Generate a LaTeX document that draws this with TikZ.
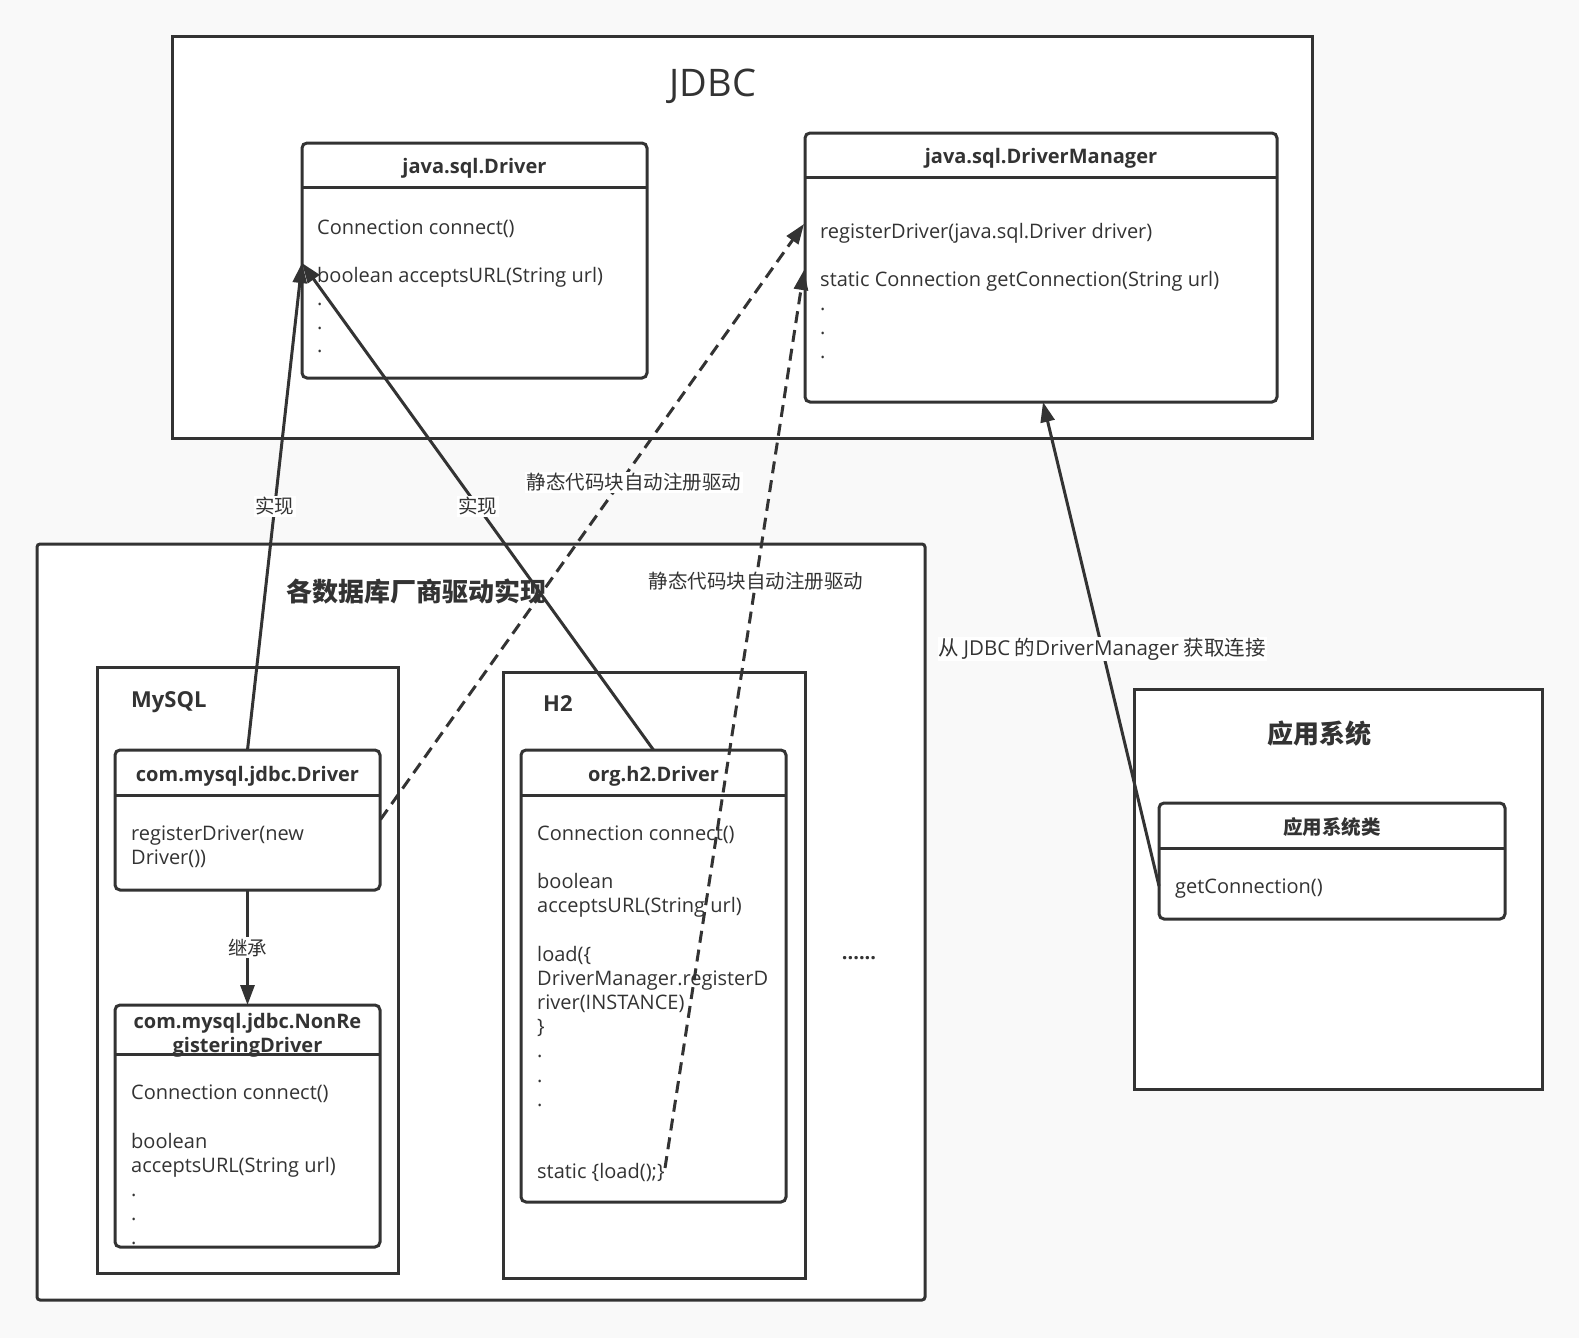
\documentclass[tikz,border=0pt]{standalone}
\usepackage{fontspec}
\setmainfont{Open Sans}
\newfontfamily\cjk{Noto Sans CJK SC}
\usetikzlibrary{arrows.meta,calc}
\definecolor{ink}{HTML}{333333}
\definecolor{bgc}{HTML}{F9F9F9}
\tikzset{
  outerbox/.style={draw=ink, line width=3pt, fill=white, inner sep=0pt, outer sep=0pt, anchor=north west},
  classbox/.style={draw=ink, line width=3pt, fill=white, rounded corners=5pt, inner sep=0pt, outer sep=0pt, anchor=north west},
  hdrline/.style={draw=ink, line width=3pt},
  conn/.style={draw=ink, line width=3pt, -{Triangle[length=20pt,width=14pt]}},
  dashconn/.style={conn, dash pattern=on 12pt off 7pt},
  body/.style={anchor=base west, inner sep=0pt, text=ink, font=\fontsize{20}{24}\selectfont},
  hdr/.style={inner sep=0pt, text=ink, font=\fontsize{20}{24}\selectfont\bfseries},
  cjkhdr/.style={inner sep=0pt, text=ink, font=\cjk\fontsize{19.5}{24}\selectfont\bfseries},
  bigtitle/.style={inner sep=0pt, text=ink, font=\cjk\fontsize{26}{30}\selectfont\bfseries},
  lbl/.style={fill=white, inner sep=1.5pt, text=ink, font=\cjk\fontsize{19.5}{22}\selectfont},
}
\begin{document}
\begin{tikzpicture}[x=1pt,y=-1pt]
\fill[bgc] (0,0) rectangle (1579,1338);
\useasboundingbox (0,0) rectangle (1579,1338);

% ---------- outer containers ----------
\node[outerbox, minimum width=1140pt, minimum height=401pt] (jdbc) at (172,37) {};
\node[text=ink, inner sep=0pt, font=\fontsize{38}{44}\selectfont] (jdbct) at (713,86) {JDBC};

\node[outerbox, rounded corners=3pt, minimum width=888pt, minimum height=756pt] (vendor) at (37,544) {};
\node[bigtitle] (vendort) at (416,591) {各数据库厂商驱动实现};

\node[outerbox, minimum width=301pt, minimum height=606pt] (mysql) at (97,667) {};
\node[anchor=west, inner sep=0pt, text=ink, font=\fontsize{22}{26}\selectfont\bfseries] (mysqlt) at (131,702) {MySQL};

\node[outerbox, minimum width=302pt, minimum height=606pt] (h2) at (503,672) {};
\node[anchor=west, inner sep=0pt, text=ink, font=\fontsize{22}{26}\selectfont\bfseries] (h2t) at (543,704) {H2};

\node[text=ink, inner sep=0pt, font=\fontsize{20}{24}\selectfont\bfseries] (more) at (859,958) {......};

\node[outerbox, minimum width=408pt, minimum height=400pt] (app) at (1134,689) {};
\node[bigtitle] (appt) at (1319,734) {应用系统};

% ---------- java.sql.Driver ----------
\node[classbox, minimum width=345pt, minimum height=235pt] (drv) at (302,143) {};
\draw[hdrline] ($(drv.north west)+(0,44)$) -- ($(drv.north east)+(0,44)$);
\node[hdr] (drvh) at (474.5,168) {java.sql.Driver};
\node[body] (drv1) at (317,234) {Connection connect()};
\node[body] (drv2) at (317,282) {boolean acceptsURL(String url)};
\node[body] (drv3) at (317,305) {.};
\node[body] (drv4) at (317,329) {.};
\node[body] (drv5) at (317,352) {.};

% ---------- java.sql.DriverManager ----------
\node[classbox, minimum width=472pt, minimum height=269pt] (dm) at (805,133) {};
\draw[hdrline] ($(dm.north west)+(0,44)$) -- ($(dm.north east)+(0,44)$);
\node[hdr] (dmh) at (1041,158) {java.sql.DriverManager};
\node[body] (dm1) at (820,238) {registerDriver(java.sql.Driver driver)};
\node[body] (dm2) at (820,286.5) {static Connection getConnection(String url)};
\node[body] (dm3) at (820,310) {.};
\node[body] (dm4) at (820,334) {.};
\node[body] (dm5) at (820,358) {.};

% ---------- com.mysql.jdbc.Driver ----------
\node[classbox, minimum width=265pt, minimum height=140pt] (mdrv) at (115,750) {};
\draw[hdrline] ($(mdrv.north west)+(0,45.5)$) -- ($(mdrv.north east)+(0,45.5)$);
\node[hdr] (mdrvh) at (247.5,776) {com.mysql.jdbc.Driver};
\node[body] (mdrv1) at (131,840) {registerDriver(new};
\node[body] (mdrv2) at (131,864) {Driver())};

% ---------- com.mysql.jdbc.NonRegisteringDriver ----------
\node[classbox, minimum width=265pt, minimum height=242pt] (nonreg) at (115,1005) {};
\node[hdr] (nonregh1) at (247.5,1023) {com.mysql.jdbc.NonRe};
\node[hdr] (nonregh2) at (247.5,1047) {gisteringDriver};
\draw[hdrline] ($(nonreg.north west)+(0,49)$) -- ($(nonreg.north east)+(0,49)$);
\node[body] (nr1) at (131,1099.6) {Connection connect()};
\node[body] (nr2) at (131,1148) {boolean};
\node[body] (nr3) at (131,1172.2) {acceptsURL(String url)};
\node[body] (nr4) at (131,1196.4) {.};
\node[body] (nr5) at (131,1220.6) {.};
\node[body] (nr6) at (131,1244.8) {.};

% ---------- org.h2.Driver ----------
\node[classbox, minimum width=265pt, minimum height=452pt] (hdrv) at (521,750) {};
\draw[hdrline] ($(hdrv.north west)+(0,45.5)$) -- ($(hdrv.north east)+(0,45.5)$);
\node[hdr] (hdrvh) at (653.5,776) {org.h2.Driver};
\node[body] (h1) at (537,840) {Connection connect()};
\node[body] (h2a) at (537,888.4) {boolean};
\node[body] (h3) at (537,912.6) {acceptsURL(String url)};
\node[body] (h4) at (537,961) {load(\{};
\node[body] (h5) at (537,985.2) {DriverManager.registerD};
\node[body] (h6) at (537,1009.4) {river(INSTANCE)};
\node[body] (h7) at (537,1033.6) {\}};
\node[body] (h8) at (537,1057.8) {.};
\node[body] (h9) at (537,1082) {.};
\node[body] (h10) at (537,1106.2) {.};
\node[body] (h11) at (537,1178.8) {static \{load();\}};

% ---------- 应用系统类 ----------
\node[classbox, minimum width=346pt, minimum height=116pt] (appc) at (1159,803) {};
\draw[hdrline] ($(appc.north west)+(0,45)$) -- ($(appc.north east)+(0,45)$);
\node[cjkhdr] (appch) at (1332,827) {应用系统类};
\node[body] (appc1) at (1175,893) {getConnection()};

% ---------- connector end points ----------
\coordinate (drvL) at (302,263);
\coordinate (dmL1) at (804,224);
\coordinate (dmL2) at (804,270);
\coordinate (dmB) at (1043,402);
\coordinate (mdrvR) at (380.5,819.5);
\coordinate (hload) at (665,1168);
\coordinate (appL) at (1159,886);

% ---------- connectors ----------
\draw[conn] (mdrv.north) -- node[lbl, pos=0.5] (l1) {实现} (drvL);
\draw[conn] (hdrv.north) -- node[lbl, pos=0.5] (l2) {实现} (drvL);
\draw[dashconn] (mdrvR) -- node[lbl, pos=0.566, xshift=14pt] (l3) {静态代码块自动注册驱动} (dmL1);
\draw[dashconn] (hload) -- node[lbl, pos=0.654] (l4) {静态代码块自动注册驱动} (dmL2);
\draw[conn] (mdrv.south) -- node[lbl, pos=0.5] (l5) {继承} (nonreg.north);
\draw[conn] (appL) -- node[lbl, pos=0.49, inner sep=1pt, font=\cjk\fontsize{20.5}{24}\selectfont] (l6) {从 {\fontspec{Open Sans}JDBC} 的{\fontspec{Open Sans}DriverManager} 获取连接} (dmB);
\end{tikzpicture}
\end{document}
